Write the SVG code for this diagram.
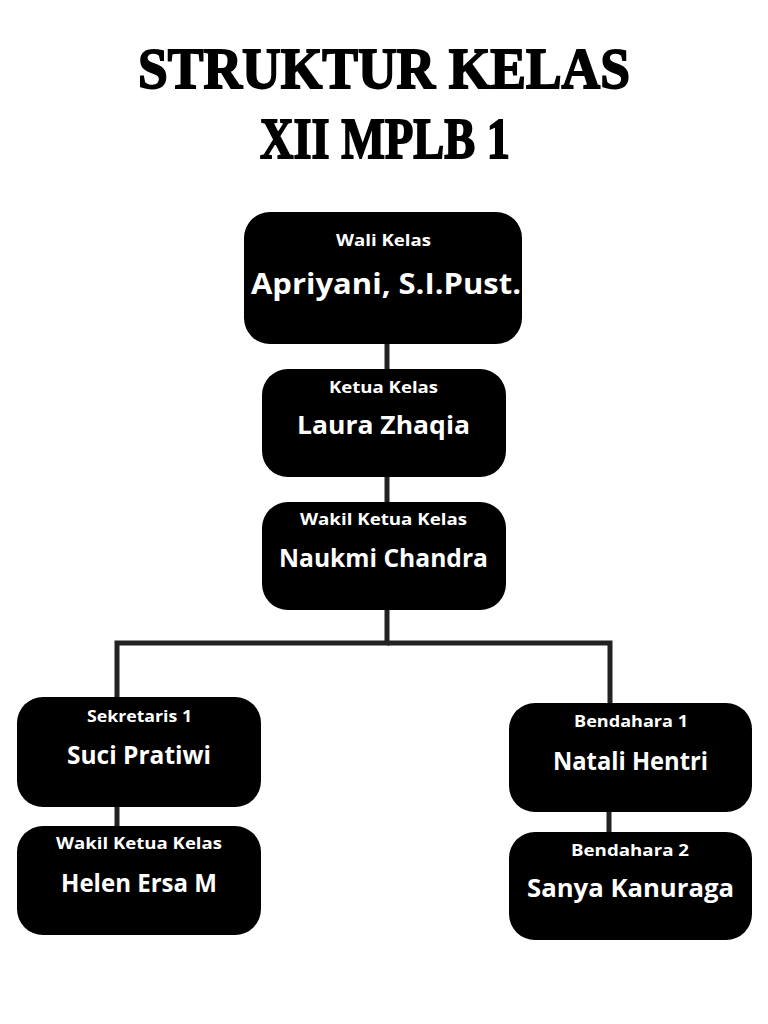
<svg xmlns="http://www.w3.org/2000/svg" width="768" height="1024" viewBox="0 0 768 1024">
<style>
.box{fill:#000}
.lbl{font-family:"Open Sans",Lato,sans-serif;font-weight:700;font-size:16px;fill:#fff;text-anchor:middle}
.nm{font-family:"Open Sans",Lato,sans-serif;font-weight:700;font-size:25px;fill:#fff;text-anchor:middle}
.ttl{font-family:"Liberation Serif","DejaVu Serif",serif;font-weight:900;font-size:56px;fill:#000;stroke:#000;stroke-width:1.8;text-anchor:middle}
.ln{stroke:#222;stroke-width:5;fill:none}
</style>
<rect width="768" height="1024" fill="#fff"/>
<g id="title">
<text class="ttl" x="384" y="88" textLength="492" lengthAdjust="spacingAndGlyphs">STRUKTUR KELAS</text>
<text class="ttl" x="385" y="158" textLength="250" lengthAdjust="spacingAndGlyphs">XII MPLB 1</text>
</g>
<g id="connectors">
<line class="ln" x1="387" y1="340" x2="387" y2="372"/>
<line class="ln" x1="387" y1="474" x2="387" y2="505"/>
<polyline class="ln" points="387,607 387,643 117,643 117,700"/>
<polyline class="ln" points="387,643 610,643 610,706"/>
<line class="ln" x1="117" y1="804" x2="117" y2="829"/>
<line class="ln" x1="609" y1="809" x2="609" y2="835"/>
</g>
<g id="wali">
<rect class="box" x="244" y="212" width="278" height="132" rx="26"/>
<text class="lbl" x="383.5" y="246" textLength="95" lengthAdjust="spacingAndGlyphs">Wali Kelas</text>
<text class="nm" x="386" y="294" style="font-size:29px" textLength="270" lengthAdjust="spacingAndGlyphs">Apriyani, S.I.Pust.</text>
</g>
<g id="ketua">
<rect class="box" x="262" y="369" width="244" height="108" rx="26"/>
<text class="lbl" x="383.5" y="393" textLength="109" lengthAdjust="spacingAndGlyphs">Ketua Kelas</text>
<text class="nm" x="383.5" y="434" textLength="173" lengthAdjust="spacingAndGlyphs">Laura Zhaqia</text>
</g>
<g id="wakil">
<rect class="box" x="262" y="502" width="244" height="108" rx="26"/>
<text class="lbl" x="383.5" y="525" textLength="167" lengthAdjust="spacingAndGlyphs">Wakil Ketua Kelas</text>
<text class="nm" x="383.5" y="567" textLength="209" lengthAdjust="spacingAndGlyphs">Naukmi Chandra</text>
</g>
<g id="sekretaris">
<rect class="box" x="17" y="697" width="244" height="110" rx="26"/>
<text class="lbl" x="139.5" y="722" textLength="105" lengthAdjust="spacingAndGlyphs">Sekretaris 1</text>
<text class="nm" x="139" y="764" textLength="144" lengthAdjust="spacingAndGlyphs">Suci Pratiwi</text>
</g>
<g id="wakil2">
<rect class="box" x="17" y="826" width="244" height="109" rx="26"/>
<text class="lbl" x="139" y="849" textLength="166" lengthAdjust="spacingAndGlyphs">Wakil Ketua Kelas</text>
<text class="nm" x="139" y="892" textLength="156" lengthAdjust="spacingAndGlyphs">Helen Ersa M</text>
</g>
<g id="bendahara1">
<rect class="box" x="509" y="703" width="243" height="109" rx="26"/>
<text class="lbl" x="631" y="727" textLength="114" lengthAdjust="spacingAndGlyphs">Bendahara 1</text>
<text class="nm" x="630.5" y="770" textLength="155" lengthAdjust="spacingAndGlyphs">Natali Hentri</text>
</g>
<g id="bendahara2">
<rect class="box" x="509" y="832" width="243" height="108" rx="26"/>
<text class="lbl" x="630" y="856" textLength="118" lengthAdjust="spacingAndGlyphs">Bendahara 2</text>
<text class="nm" x="630.5" y="897" textLength="207" lengthAdjust="spacingAndGlyphs">Sanya Kanuraga</text>
</g>
</svg>
